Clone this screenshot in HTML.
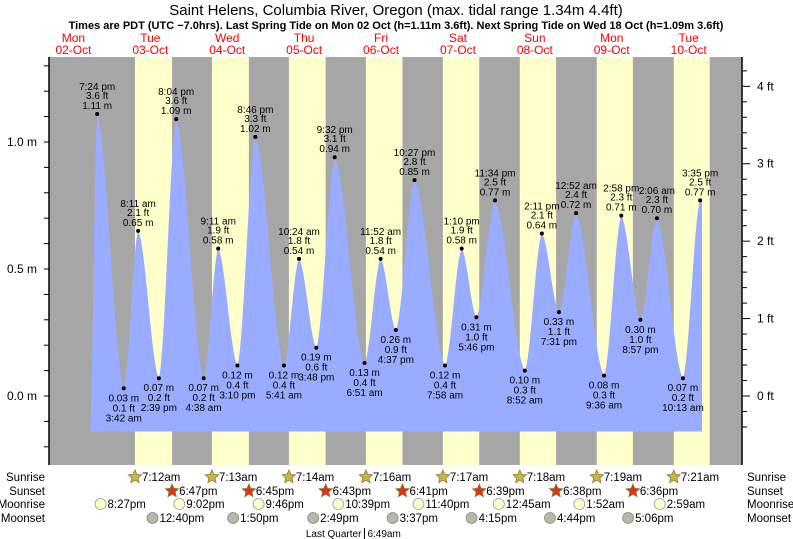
<!DOCTYPE html>
<html><head><meta charset="utf-8"><style>
body{margin:0;background:#fff;}
svg{display:block;font-family:"Liberation Sans",sans-serif;}
</style></head><body>
<svg id="c" width="793" height="539" viewBox="0 0 793 539">
<rect x="49" y="57" width="693" height="408" fill="#a6a6a6"/>
<g id="bands"></g>
<path id="tide" fill="#9aacff"/>
<g id="labels"></g>
<g id="axes"></g>
<g id="rows"></g>
<text x="396" y="15" text-anchor="middle" font-size="15">Saint Helens, Columbia River, Oregon (max. tidal range 1.34m 4.4ft)</text>
<text x="396" y="29" text-anchor="middle" font-size="11" font-weight="bold">Times are PDT (UTC −7.0hrs). Last Spring Tide on Mon 02 Oct (h=1.11m 3.6ft). Next Spring Tide on Wed 18 Oct (h=1.09m 3.6ft)</text>
</svg>
<script>
const dayNames=["Mon","Tue","Wed","Thu","Fri","Sat","Sun","Mon","Tue"];
const dayDates=["02-Oct","03-Oct","04-Oct","05-Oct","06-Oct","07-Oct","08-Oct","09-Oct","10-Oct"];
const tideDays=[0,1,1,1,1,2,2,2,2,3,3,3,3,4,4,4,4,5,5,5,5,6,6,6,7,7,7,7,8,8,8];
const tideHours=[19.4,3.7,8.183,14.65,20.067,4.633,9.183,15.167,20.767,5.683,10.4,15.8,21.533,6.85,11.867,16.617,22.45,7.967,13.167,17.767,23.567,8.867,14.183,19.517,0.867,9.6,14.967,20.95,2.1,10.217,15.583];
const tideHeights=[1.11,0.03,0.65,0.07,1.09,0.07,0.58,0.12,1.02,0.12,0.54,0.19,0.94,0.13,0.54,0.26,0.85,0.12,0.58,0.31,0.77,0.10,0.64,0.33,0.72,0.08,0.71,0.30,0.70,0.07,0.77];
const tideTimes=["7:24 pm","3:42 am","8:11 am","2:39 pm","8:04 pm","4:38 am","9:11 am","3:10 pm","8:46 pm","5:41 am","10:24 am","3:48 pm","9:32 pm","6:51 am","11:52 am","4:37 pm","10:27 pm","7:58 am","1:10 pm","5:46 pm","11:34 pm","8:52 am","2:11 pm","7:31 pm","12:52 am","9:36 am","2:58 pm","8:57 pm","2:06 am","10:13 am","3:35 pm"];
const tideFeet=["3.6","0.1","2.1","0.2","3.6","0.2","1.9","0.4","3.3","0.4","1.8","0.6","3.1","0.4","1.8","0.9","2.8","0.4","1.9","1.0","2.5","0.3","2.1","1.1","2.4","0.3","2.3","1.0","2.3","0.2","2.5"];
const sunriseHours=[7.2,7.217,7.233,7.267,7.283,7.3,7.317,7.35];
const sunriseLabels=["7:12am","7:13am","7:14am","7:16am","7:17am","7:18am","7:19am","7:21am"];
const sunsetHours=[18.783,18.75,18.717,18.683,18.65,18.633,18.6,18.567];
const sunsetLabels=["6:47pm","6:45pm","6:43pm","6:41pm","6:39pm","6:38pm","6:36pm",""];
const moonriseDays=[0,1,2,3,4,6,7,8];
const moonriseHours=[20.45,21.033,21.767,22.65,23.667,0.75,1.867,2.983];
const moonriseLabels=["8:27pm","9:02pm","9:46pm","10:39pm","11:40pm","12:45am","1:52am","2:59am"];
const moonsetDays=[1,2,3,4,5,6,7];
const moonsetHours=[12.667,13.833,14.817,15.617,16.25,16.733,17.1];
const moonsetLabels=["12:40pm","1:50pm","2:49pm","3:37pm","4:15pm","4:44pm","5:06pm"];
const mTicks=[0,0.5,1.0];
const mTickLabels=["0.0 m","0.5 m","1.0 m"];
const ftTicks=[0,1,2,3,4];
const ftTickLabels=["0 ft","1 ft","2 ft","3 ft","4 ft"];

const NS="http://www.w3.org/2000/svg";
const PX_DAY=76.9, X0=35;
function X(d,h){return X0+d*PX_DAY+h*PX_DAY/24;}
function Y(m){return 396-m*254;}
function mk(tag,attrs,parent,txt){const e=document.createElementNS(NS,tag);for(const k in attrs)e.setAttribute(k,attrs[k]);if(txt!==undefined)e.textContent=txt;parent.appendChild(e);return e;}
const svg=document.getElementById('c');
const bands=document.getElementById('bands');
for(let i=0;i<8;i++){
  const x1=X(i+1,sunriseHours[i]),x2=X(i+1,sunsetHours[i]);
  const r=mk('rect',{x:x1,y:57,width:x2-x1,height:408,fill:'#ffffcc'},bands);
  
  
}
for(let i=0;i<9;i++){
  const cx=X(i,12);
  const t1=mk('text',{x:cx,y:42,'text-anchor':'middle','font-size':12,fill:'#ff0000'},svg,dayNames[i]);
  
  
  const t2=mk('text',{x:cx,y:54,'text-anchor':'middle','font-size':12,fill:'#ff0000'},svg,dayDates[i]);
  
  
}
const xs=tideDays.map((d,i)=>X(d,tideHours[i]));
const base=Y(-0.14);
function shape(t){return 0.75*(1-Math.cos(Math.PI*t))/2+0.25*t;}
let pts=[];
const xStart=90;
for(let x=xStart;x<=xs[0];x++){const t=(x-xStart)/(xs[0]-xStart);pts.push([x,base+(Y(tideHeights[0])-base)*shape(t)]);}
for(let i=0;i<xs.length-1;i++){
  const a=xs[i],b=xs[i+1];
  for(let x=Math.ceil(a);x<=b;x+=0.5){const t=(x-a)/(b-a);const h=tideHeights[i]+(tideHeights[i+1]-tideHeights[i])*shape(t);pts.push([x,Y(h)]);}
}
const last=xs.length-1;
pts.push([xs[last],Y(tideHeights[last])]);
const xEnd=702;
pts.push([xEnd,Y(tideHeights[last])+2]);
let d=`M${xStart},${base} `+pts.map(p=>`L${p[0].toFixed(1)},${p[1].toFixed(1)}`).join(' ')+` L${xEnd},${base} Z`;
document.getElementById('tide').setAttribute('d',d);
const lab=document.getElementById('labels');
for(let i=0;i<xs.length;i++){
  const x=xs[i],y=Y(tideHeights[i]);
  const dot=mk('circle',{cx:x,cy:y,r:2,fill:'#000'},lab);
  
  
  const isHigh=(i===0)||((i>0&&tideHeights[i]>tideHeights[i-1]));
  const lines=isHigh?[[tideTimes[i],-24],[tideFeet[i]+" ft",-15],[tideHeights[i].toFixed(2)+" m",-5]]
                    :[[tideHeights[i].toFixed(2)+" m",13],[tideFeet[i]+" ft",23],[tideTimes[i],33]];
  for(const [s,dy] of lines){
    const t=mk('text',{x:x,y:y+dy,'text-anchor':'middle','font-size':10,fill:'#000'},lab,s);
    
    
  }
}
const ax=document.getElementById('axes');
mk('line',{x1:49,y1:57,x2:49,y2:465,stroke:'#000','stroke-width':1.5},ax);
mk('line',{x1:742,y1:57,x2:742,y2:465,stroke:'#000','stroke-width':1.5},ax);
for(let k=-2;k<=13;k++){const y=Y(k*0.1);if(y<57||y>465)continue;mk('line',{x1:44,y1:y,x2:49,y2:y,stroke:'#000'},ax);}
for(let i=0;i<mTicks.length;i++){
  const t=mk('text',{x:37,y:Y(mTicks[i])+4,'text-anchor':'end','font-size':12},ax,mTickLabels[i]);
  
  
}
for(let k=-2;k<=22;k++){const y=Y(k*0.2*0.3048);if(y<57||y>465)continue;mk('line',{x1:742,y1:y,x2:(k%5===0)?750:747,y2:y,stroke:'#000'},ax);}
for(let i=0;i<ftTicks.length;i++){
  const t=mk('text',{x:757,y:Y(ftTicks[i]*0.3048)+4,'font-size':12},ax,ftTickLabels[i]);
  
  
}
const rows=document.getElementById('rows');
const rowY={sunrise:481,sunset:495,moonrise:508,moonset:522};
[["Sunrise",481],["Sunset",495],["Moonrise",508],["Moonset",522]].forEach(([n,y])=>{
  const a=mk('text',{x:45,y:y,'text-anchor':'end','font-size':11.5},rows,n);
  
  
  const b=mk('text',{x:747,y:y,'font-size':11.5},rows,n);
  
  
});
function star(cx,cy,fill,name){
  let p=[];for(let k=0;k<10;k++){const r=k%2?3.2:7;const a=-Math.PI/2+k*Math.PI/5;p.push((cx+r*Math.cos(a)).toFixed(1)+','+(cy+r*Math.sin(a)).toFixed(1));}
  const s=mk('polygon',{points:p.join(' '),fill:fill,stroke:'#8a7a30','stroke-width':0.8},rows);
  
  
}
for(let i=0;i<8;i++){
  const x=X(i+1,sunriseHours[i]);
  star(x,rowY.sunrise-4,'#c8b840','sunrise-icon');
  const t=mk('text',{x:x+7,y:rowY.sunrise,'font-size':11.5},rows,sunriseLabels[i]);
  
  
  if(sunsetLabels[i]){
    const x2=X(i+1,sunsetHours[i]);
    star(x2,rowY.sunset-4,'#e03020','sunset-icon');
    const t2=mk('text',{x:x2+7,y:rowY.sunset,'font-size':11.5},rows,sunsetLabels[i]);
    
    
  }
}
for(let i=0;i<moonriseDays.length;i++){
  const x=X(moonriseDays[i],moonriseHours[i]);
  const c=mk('circle',{cx:x,cy:rowY.moonrise-4,r:5.5,fill:'#ffffcc',stroke:'#999','stroke-width':0.8},rows);
  
  
  const t=mk('text',{x:x+7,y:rowY.moonrise,'font-size':11.5},rows,moonriseLabels[i]);
  
  
}
for(let i=0;i<moonsetDays.length;i++){
  const x=X(moonsetDays[i],moonsetHours[i]);
  const c=mk('circle',{cx:x,cy:rowY.moonset-4,r:5.5,fill:'#b8b8a8',stroke:'#888','stroke-width':0.8},rows);
  
  
  const t=mk('text',{x:x+7,y:rowY.moonset,'font-size':11.5},rows,moonsetLabels[i]);
  
  
}
const lq=X(4,6.817);
const q1=mk('text',{x:lq-3,y:537,'text-anchor':'end','font-size':10},rows,"Last Quarter");


mk('line',{x1:lq,y1:528,x2:lq,y2:539,stroke:'#000'},rows);
const q2=mk('text',{x:lq+3,y:537,'font-size':10},rows,"6:49am");


</script>
</body></html>
